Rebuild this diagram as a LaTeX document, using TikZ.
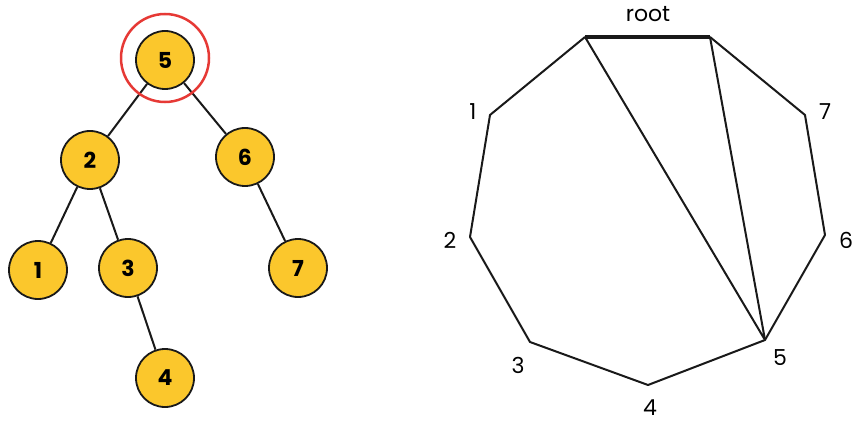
\documentclass[tikz,border=0pt]{standalone}
\usepackage{fontspec}
\setmainfont{Poppins}
\begin{document}
\begin{tikzpicture}[x=1pt,y=-1pt,
  tn/.style={circle,draw=black!90,line width=1.8pt,fill=yellow!80!orange!95,minimum size=58pt,inner sep=0pt,font=\fontsize{22}{24}\selectfont\bfseries},
  lab/.style={font=\fontsize{22}{24}\selectfont},
  ed/.style={line width=2pt,black!90}]
\useasboundingbox (0,0) rectangle (864,422);
\definecolor{ty}{HTML}{FBC72C}
\tikzset{tn/.append style={fill=ty}}
% tree
\node[tn] (t5) at (165,60) {5};
\node[tn] (t2) at (90,160) {2};
\node[tn] (t6) at (245,157) {6};
\node[tn] (t1) at (38,270) {1};
\node[tn] (t3) at (128,268) {3};
\node[tn] (t7) at (298,268) {7};
\node[tn] (t4) at (165,378) {4};
\draw[ed] (t5)--(t2) (t5)--(t6) (t2)--(t1) (t2)--(t3) (t3)--(t4) (t6)--(t7);
\node[circle,draw={rgb,255:red,230;green,57;blue,53},line width=2.5pt,minimum size=88pt] (hl) at (165,58) {};
% polygon
\coordinate (r1) at (585,37);
\coordinate (r2) at (710,37);
\coordinate (p7) at (805,115);
\coordinate (p6) at (825,235);
\coordinate (p5) at (765,340);
\coordinate (p4) at (648,385);
\coordinate (p3) at (530,342);
\coordinate (p2) at (470,237);
\coordinate (p1) at (490,115);
\draw[ed,line join=round] (r2)--(p7)--(p6)--(p5)--(p4)--(p3)--(p2)--(p1)--(r1);
\draw[ed] (r1)--(p5) (r2)--(p5);
\draw[line width=4pt,black!90] (r1)--(r2);
\node[lab] (lr) at (648,14) {root};
\node[lab] (l1) at (473,112) {1};
\node[lab] (l7) at (825,112) {7};
\node[lab] (l2) at (450,240) {2};
\node[lab] (l6) at (846,240) {6};
\node[lab] (l3) at (518,365) {3};
\node[lab] (l4) at (650,408) {4};
\node[lab] (l5) at (780,358) {5};
\end{tikzpicture}
\end{document}
